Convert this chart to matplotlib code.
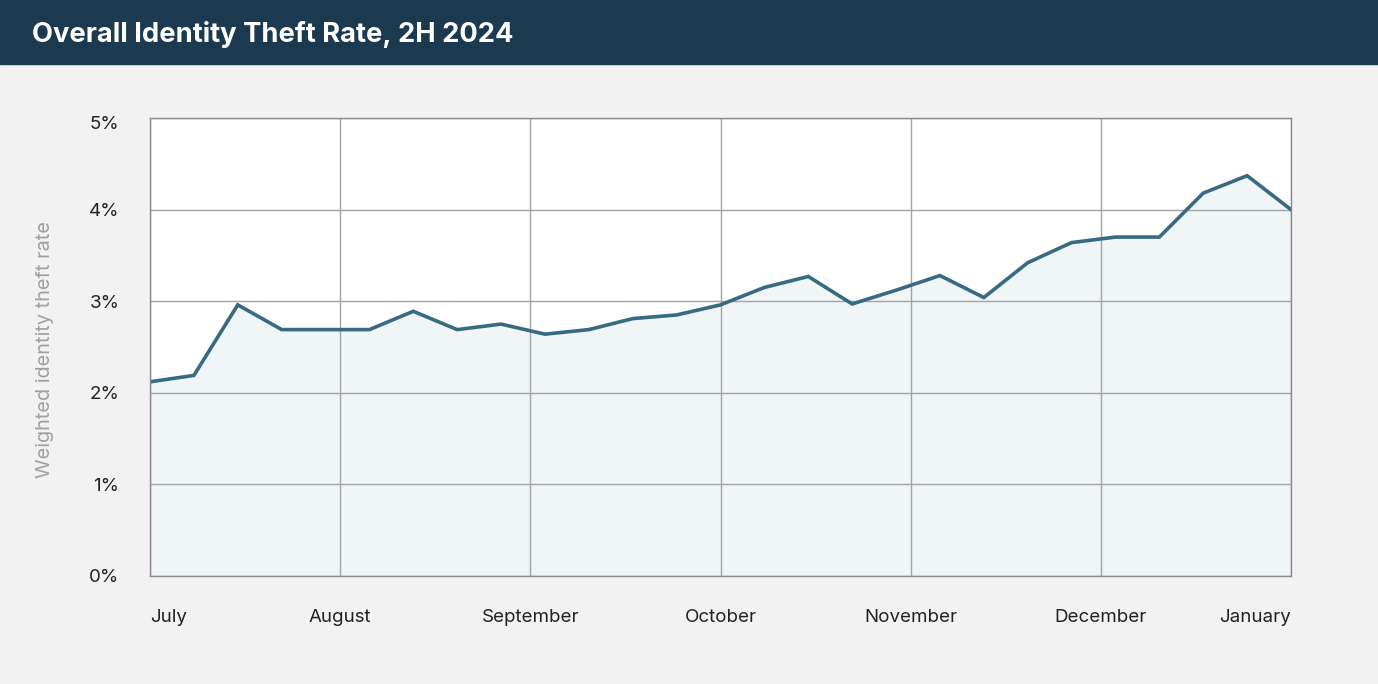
import numpy as np
import matplotlib.pyplot as plt
from matplotlib.patches import Rectangle
from matplotlib.transforms import ScaledTranslation

# -----------------------------
# Data (weekly weighted identity theft rate, %)
# -----------------------------
rates = [2.12, 2.19, 2.96, 2.69, 2.69, 2.69, 2.89, 2.69, 2.75, 2.64,
         2.69, 2.81, 2.85, 2.96, 3.15, 3.27, 2.97, 3.12, 3.28, 3.04,
         3.42, 3.64, 3.70, 3.70, 4.18, 4.37, 4.00]
month_labels = ["July", "August", "September", "October", "November", "December", "January"]
y_ticks = [0, 1, 2, 3, 4, 5]

title = "Overall Identity Theft Rate, 2H 2024"
ylabel = "Weighted identity theft rate"

# -----------------------------
# Style
# -----------------------------
plt.rcParams["font.family"] = ["Inter", "DejaVu Sans"]
bg = "#f2f2f2"
navy = "#1c3a4f"
line_c = "#386a81"
fill_c = "#f0f5f8"
grid_c = "#a3a3a3"

W, H = 1378, 684
fig = plt.figure(figsize=(W / 100, H / 100), dpi=100, facecolor=bg)

# title bar
fig.patches.append(Rectangle((0, 1 - 64 / H), 1, 64 / H, transform=fig.transFigure,
                             color=navy, zorder=0))
fig.text(32 / W, 1 - 34 / H, title, color="white", fontsize=19.7,
         fontweight="bold", va="center", ha="left")

ax = fig.add_axes([150 / W, 1 - 576 / H, 1141 / W, 458 / H])
ax.set_facecolor("white")

# months are evenly spaced on the axis, weekly points spread across them
month_pos = np.arange(len(month_labels))
x = np.linspace(month_pos[0], month_pos[-1], len(rates))
ax.fill_between(x, rates, 0, color=fill_c, zorder=1)
ax.plot(x, rates, color=line_c, lw=2.6, solid_joinstyle="miter", zorder=3)

ax.set_xlim(month_pos[0], month_pos[-1])
ax.set_ylim(0, 5)

ax.set_yticks(y_ticks)
ax.set_yticklabels([f"{v}%" for v in y_ticks])
ax.set_xticks(month_pos)
ax.set_xticklabels(month_labels)
for i, lab in enumerate(ax.get_xticklabels()):
    if i == 0:
        lab.set_ha("left")
    elif i == len(month_labels) - 1:
        lab.set_ha("right")

ax.tick_params(axis="both", length=0, labelsize=13.5, colors="#222222")
ax.tick_params(axis="x", pad=23.5)
ax.tick_params(axis="y", pad=22)

# top label sits a little lower so it stays inside the chart area
top_lab = ax.get_yticklabels()[-1]
top_lab.set_transform(top_lab.get_transform() + ScaledTranslation(0, -5 / 100, fig.dpi_scale_trans))

ax.grid(True, color=grid_c, lw=1, zorder=2)
ax.set_axisbelow(False)
for s in ax.spines.values():
    s.set_color("#8d8790")
    s.set_linewidth(1)
    s.set_zorder(4)

fig.text(45 / W, 1 - 350 / H, ylabel, rotation=90, color="#a0a0a0",
         fontsize=14.3, va="center", ha="center")

fig.savefig("out.png", dpi=100, facecolor=bg)
